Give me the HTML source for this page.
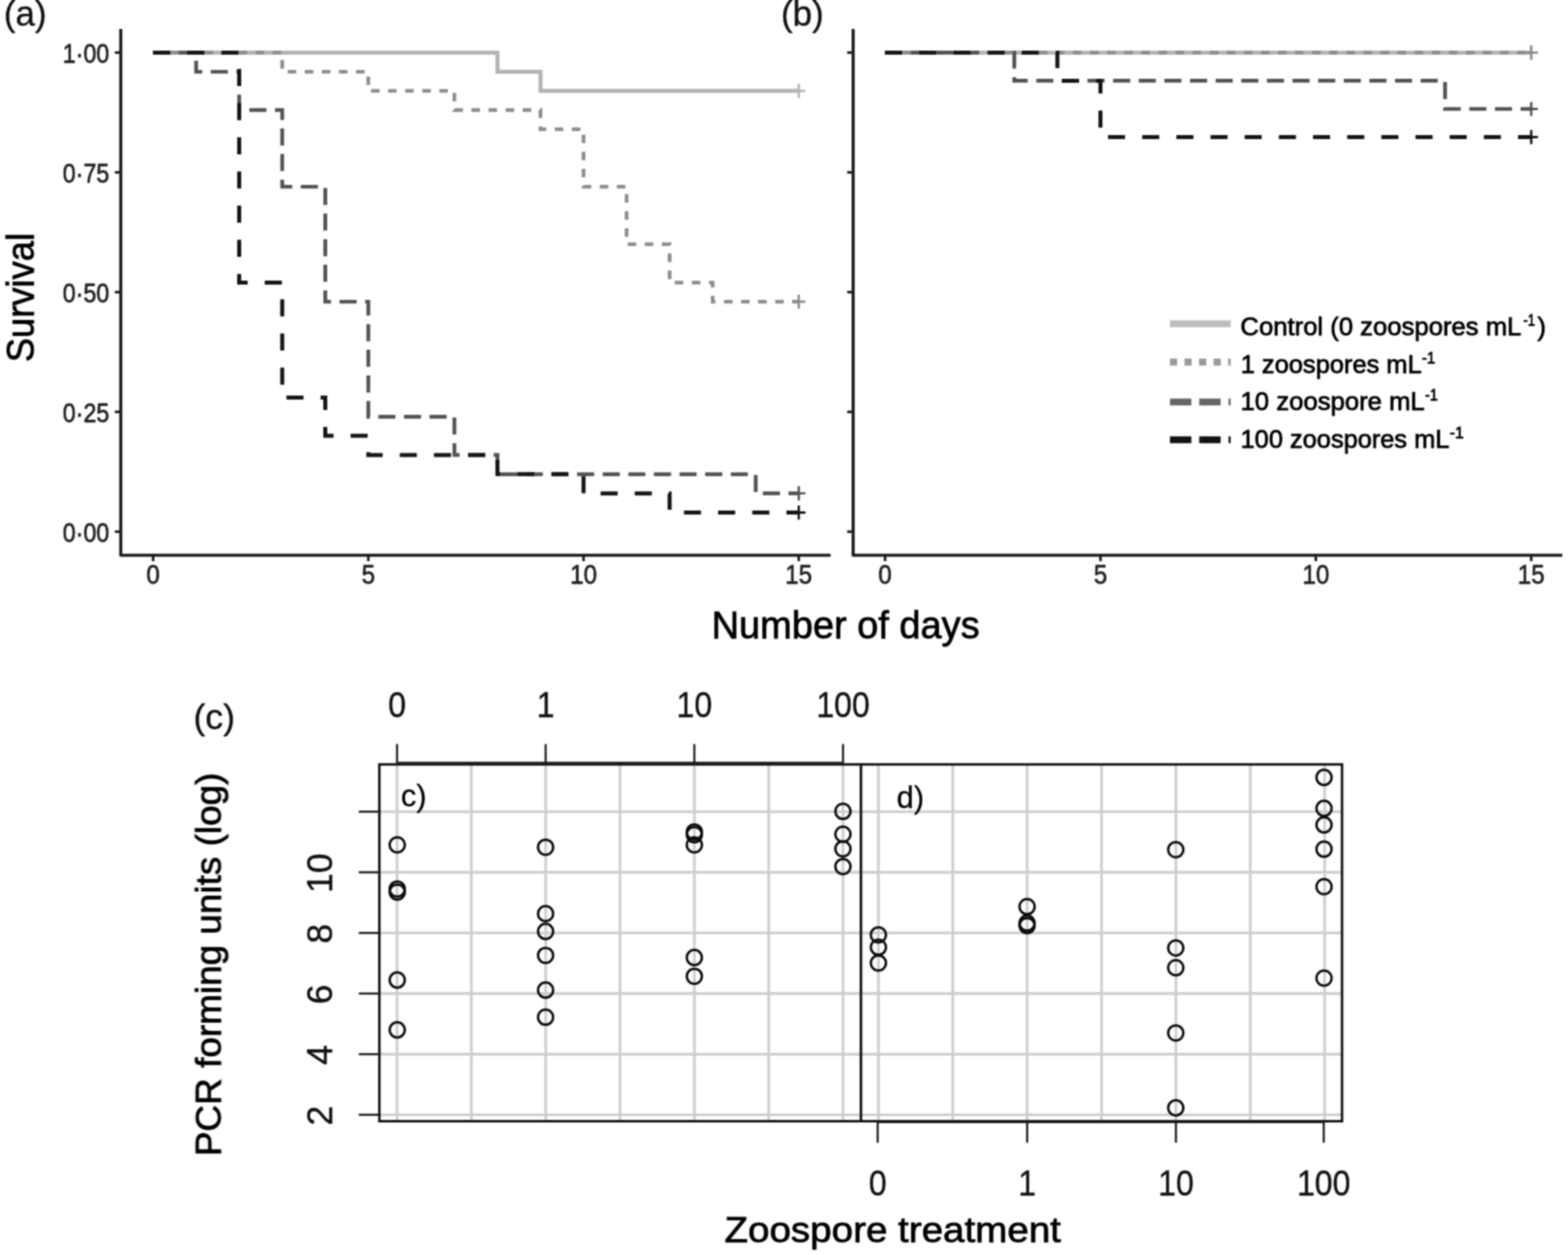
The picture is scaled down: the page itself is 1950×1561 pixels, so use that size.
<!DOCTYPE html>
<html><head><meta charset="utf-8"><title>Figure</title>
<style>html,body{margin:0;padding:0;background:#fff;}svg{display:block;}</style>
</head><body><div id="w">
<svg width="1950" height="1561" viewBox="0 0 1950 1561">
<rect width="1950" height="1561" fill="#ffffff"/>
<defs><filter id="bl" x="0" y="0" width="1950" height="1561" filterUnits="userSpaceOnUse" color-interpolation-filters="sRGB"><feConvolveMatrix order="5" kernelMatrix="0.00142 0.00904 0.01675 0.00904 0.00142 0.00904 0.05757 0.10673 0.05757 0.00904 0.01675 0.10673 0.19786 0.10673 0.01675 0.00904 0.05757 0.10673 0.05757 0.00904 0.00142 0.00904 0.01675 0.00904 0.00142" divisor="1" edgeMode="duplicate" preserveAlpha="false"/></filter></defs>
<g filter="url(#bl)">
<g font-family="'Liberation Sans', Arial, Helvetica, sans-serif">
<path d="M150.2,36 V690.7 H1033" fill="none" stroke="#1a1a1a" stroke-width="3.8" stroke-linejoin="round"/>
<line x1="142.8" y1="65.40" x2="150.2" y2="65.40" stroke="#1a1a1a" stroke-width="3.2"/>
<line x1="142.8" y1="214.38" x2="150.2" y2="214.38" stroke="#1a1a1a" stroke-width="3.2"/>
<line x1="142.8" y1="363.35" x2="150.2" y2="363.35" stroke="#1a1a1a" stroke-width="3.2"/>
<line x1="142.8" y1="512.32" x2="150.2" y2="512.32" stroke="#1a1a1a" stroke-width="3.2"/>
<line x1="142.8" y1="661.30" x2="150.2" y2="661.30" stroke="#1a1a1a" stroke-width="3.2"/>
<line x1="190.40" y1="690.7" x2="190.40" y2="698" stroke="#1a1a1a" stroke-width="3.2"/>
<text transform="translate(190.40,726.2) scale(0.9,1)" font-size="33.5" text-anchor="middle" fill="#222" stroke="#222" stroke-width="0.8">0</text>
<line x1="458.05" y1="690.7" x2="458.05" y2="698" stroke="#1a1a1a" stroke-width="3.2"/>
<text transform="translate(458.05,726.2) scale(0.9,1)" font-size="33.5" text-anchor="middle" fill="#222" stroke="#222" stroke-width="0.8">5</text>
<line x1="725.70" y1="690.7" x2="725.70" y2="698" stroke="#1a1a1a" stroke-width="3.2"/>
<text transform="translate(725.70,726.2) scale(0.9,1)" font-size="33.5" text-anchor="middle" fill="#222" stroke="#222" stroke-width="0.8">10</text>
<line x1="993.35" y1="690.7" x2="993.35" y2="698" stroke="#1a1a1a" stroke-width="3.2"/>
<text transform="translate(993.35,726.2) scale(0.9,1)" font-size="33.5" text-anchor="middle" fill="#222" stroke="#222" stroke-width="0.8">15</text>
<text transform="translate(136,77.80) scale(0.893,1)" font-size="32.5" text-anchor="end" fill="#222" stroke="#222" stroke-width="0.8">1·00</text>
<text transform="translate(136,226.78) scale(0.893,1)" font-size="32.5" text-anchor="end" fill="#222" stroke="#222" stroke-width="0.8">0·75</text>
<text transform="translate(136,375.75) scale(0.893,1)" font-size="32.5" text-anchor="end" fill="#222" stroke="#222" stroke-width="0.8">0·50</text>
<text transform="translate(136,524.72) scale(0.893,1)" font-size="32.5" text-anchor="end" fill="#222" stroke="#222" stroke-width="0.8">0·25</text>
<text transform="translate(136,673.70) scale(0.893,1)" font-size="32.5" text-anchor="end" fill="#222" stroke="#222" stroke-width="0.8">0·00</text>
<path d="M1061,36 V690.7 H1943" fill="none" stroke="#1a1a1a" stroke-width="3.8" stroke-linejoin="round"/>
<line x1="1053.6" y1="65.40" x2="1061" y2="65.40" stroke="#1a1a1a" stroke-width="3.2"/>
<line x1="1053.6" y1="214.38" x2="1061" y2="214.38" stroke="#1a1a1a" stroke-width="3.2"/>
<line x1="1053.6" y1="363.35" x2="1061" y2="363.35" stroke="#1a1a1a" stroke-width="3.2"/>
<line x1="1053.6" y1="512.32" x2="1061" y2="512.32" stroke="#1a1a1a" stroke-width="3.2"/>
<line x1="1053.6" y1="661.30" x2="1061" y2="661.30" stroke="#1a1a1a" stroke-width="3.2"/>
<line x1="1100.70" y1="690.7" x2="1100.70" y2="698" stroke="#1a1a1a" stroke-width="3.2"/>
<text transform="translate(1100.70,726.2) scale(0.9,1)" font-size="33.5" text-anchor="middle" fill="#222" stroke="#222" stroke-width="0.8">0</text>
<line x1="1368.55" y1="690.7" x2="1368.55" y2="698" stroke="#1a1a1a" stroke-width="3.2"/>
<text transform="translate(1368.55,726.2) scale(0.9,1)" font-size="33.5" text-anchor="middle" fill="#222" stroke="#222" stroke-width="0.8">5</text>
<line x1="1636.40" y1="690.7" x2="1636.40" y2="698" stroke="#1a1a1a" stroke-width="3.2"/>
<text transform="translate(1636.40,726.2) scale(0.9,1)" font-size="33.5" text-anchor="middle" fill="#222" stroke="#222" stroke-width="0.8">10</text>
<line x1="1904.25" y1="690.7" x2="1904.25" y2="698" stroke="#1a1a1a" stroke-width="3.2"/>
<text transform="translate(1904.25,726.2) scale(0.9,1)" font-size="33.5" text-anchor="middle" fill="#222" stroke="#222" stroke-width="0.8">15</text>
</g>
<path d="M190.40,65.40H618.64V89.24H672.17V113.07H993.35" fill="none" stroke="#b3b3b3" stroke-width="5.0" stroke-linejoin="miter"/>
<path d="M190.40,65.40H350.99V89.24H458.05V113.07H565.11V136.91H672.17V160.74H725.70V232.25H779.23V303.76H832.76V351.43H886.29V375.27H993.35" fill="none" stroke="#8c8c8c" stroke-width="4.6" stroke-dasharray="10.623 10.623" stroke-linejoin="miter"/>
<path d="M190.40,65.40H243.93V89.24H297.46V136.91H350.99V232.25H404.52V375.27H458.05V518.28H565.11V565.96H618.64V589.79H939.82V613.63H993.35" fill="none" stroke="#525252" stroke-width="4.7" stroke-dasharray="21.245 10.623" stroke-linejoin="miter"/>
<path d="M190.40,65.40H297.46V351.43H350.99V494.45H404.52V542.12H458.05V565.96H618.64V589.79H725.70V613.63H832.76V637.46H993.35" fill="none" stroke="#141414" stroke-width="5.0" stroke-dasharray="21.245 21.245" stroke-linejoin="miter"/>
<path d="M985.05,113.07H1001.65M993.35,104.27V121.87" stroke="#b3b3b3" stroke-width="2.9" fill="none"/>
<path d="M985.05,375.27H1001.65M993.35,366.47V384.07" stroke="#8c8c8c" stroke-width="2.9" fill="none"/>
<path d="M985.05,613.63H1001.65M993.35,604.83V622.43" stroke="#525252" stroke-width="2.9" fill="none"/>
<path d="M985.05,637.46H1001.65M993.35,628.66V646.26" stroke="#141414" stroke-width="2.9" fill="none"/>
<path d="M1100.70,65.40H1904.25" fill="none" stroke="#b3b3b3" stroke-width="5.0" stroke-linejoin="miter"/>
<path d="M1100.70,65.40H1904.25" fill="none" stroke="#8c8c8c" stroke-width="4.6" stroke-dasharray="10.623 10.623" stroke-linejoin="miter"/>
<path d="M1100.70,65.40H1261.41V100.45H1797.11V135.51H1904.25" fill="none" stroke="#525252" stroke-width="4.7" stroke-dasharray="21.245 10.623" stroke-linejoin="miter"/>
<path d="M1100.70,65.40H1314.98V100.45H1368.55V170.56H1904.25" fill="none" stroke="#141414" stroke-width="5.0" stroke-dasharray="21.245 21.245" stroke-linejoin="miter"/>
<path d="M1895.95,65.40H1912.55M1904.25,56.60V74.20" stroke="#b3b3b3" stroke-width="2.9" fill="none"/>
<path d="M1895.95,65.40H1912.55M1904.25,56.60V74.20" stroke="#8c8c8c" stroke-width="2.9" fill="none"/>
<path d="M1895.95,135.51H1912.55M1904.25,126.71V144.31" stroke="#525252" stroke-width="2.9" fill="none"/>
<path d="M1895.95,170.56H1912.55M1904.25,161.76V179.36" stroke="#141414" stroke-width="2.9" fill="none"/>
<g font-family="'Liberation Sans', Arial, Helvetica, sans-serif" fill="#111" stroke="#111" stroke-width="0.4">
<text x="4.8" y="32.4" font-size="43.5">(a)</text>
<text x="971.3" y="32.4" font-size="43.5">(b)</text>
<text x="240.5" y="906.5" font-size="44.5">(c)</text>
</g>
<g font-family="'Liberation Sans', Arial, Helvetica, sans-serif" fill="#000" stroke="#000" stroke-width="0.9">
<line x1="1455" y1="402.7" x2="1530.5" y2="402.7" stroke="#bdbdbd" stroke-width="8.6"/>
<text x="1542.6" y="417" font-size="32" textLength="349.4" lengthAdjust="spacingAndGlyphs">Control (0 zoospores mL</text>
<text x="1894.5" y="404.5" font-size="20" textLength="14.5" lengthAdjust="spacingAndGlyphs">-1</text>
<text x="1912" y="417" font-size="32">)</text>
<line x1="1455" y1="450.4" x2="1530.5" y2="450.4" stroke="#9a9a9a" stroke-width="8.6" stroke-dasharray="8.9 9.2"/>
<text x="1543" y="464" font-size="32" textLength="225.0" lengthAdjust="spacingAndGlyphs">1 zoospores mL</text>
<text x="1768.3" y="451.5" font-size="20" textLength="16.7" lengthAdjust="spacingAndGlyphs">-1</text>
<line x1="1455" y1="500.0" x2="1530.5" y2="500.0" stroke="#666666" stroke-width="8.6" stroke-dasharray="26.6 9.8"/>
<text x="1542.8" y="510" font-size="32" textLength="229.0" lengthAdjust="spacingAndGlyphs">10 zoospore mL</text>
<text x="1772.3" y="497.5" font-size="20" textLength="15.7" lengthAdjust="spacingAndGlyphs">-1</text>
<line x1="1455" y1="547.0" x2="1530.5" y2="547.0" stroke="#111111" stroke-width="8.6" stroke-dasharray="26.6 9.8"/>
<text x="1542.8" y="557.4" font-size="32" textLength="259.7" lengthAdjust="spacingAndGlyphs">100 zoospores mL</text>
<text x="1803" y="544.9" font-size="20" textLength="17.3" lengthAdjust="spacingAndGlyphs">-1</text>
</g>
<g font-family="'Liberation Sans', Arial, Helvetica, sans-serif" fill="#000" stroke="#000" stroke-width="0.9">
<text x="885" y="794" font-size="47.5" textLength="333.3" lengthAdjust="spacingAndGlyphs">Number of days</text>
<text transform="translate(41.7,450.6) rotate(-90)" x="0" y="0" font-size="47.5" textLength="160.8" lengthAdjust="spacingAndGlyphs">Survival</text>
<text x="901" y="1544.5" font-size="44" textLength="418.4" lengthAdjust="spacingAndGlyphs">Zoospore treatment</text>
<text transform="translate(274.6,1438) rotate(-90)" x="0" y="0" font-size="44" textLength="477" lengthAdjust="spacingAndGlyphs">PCR forming units (log)</text>
</g>
<line x1="493.80" y1="950.8" x2="493.80" y2="1394.6" stroke="#cecece" stroke-width="3.4"/>
<line x1="586.23" y1="950.8" x2="586.23" y2="1394.6" stroke="#cecece" stroke-width="3.4"/>
<line x1="678.66" y1="950.8" x2="678.66" y2="1394.6" stroke="#cecece" stroke-width="3.4"/>
<line x1="771.09" y1="950.8" x2="771.09" y2="1394.6" stroke="#cecece" stroke-width="3.4"/>
<line x1="863.52" y1="950.8" x2="863.52" y2="1394.6" stroke="#cecece" stroke-width="3.4"/>
<line x1="955.95" y1="950.8" x2="955.95" y2="1394.6" stroke="#cecece" stroke-width="3.4"/>
<line x1="1048.38" y1="950.8" x2="1048.38" y2="1394.6" stroke="#cecece" stroke-width="3.4"/>
<line x1="1092.40" y1="950.8" x2="1092.40" y2="1394.6" stroke="#cecece" stroke-width="3.4"/>
<line x1="1184.90" y1="950.8" x2="1184.90" y2="1394.6" stroke="#cecece" stroke-width="3.4"/>
<line x1="1277.40" y1="950.8" x2="1277.40" y2="1394.6" stroke="#cecece" stroke-width="3.4"/>
<line x1="1369.90" y1="950.8" x2="1369.90" y2="1394.6" stroke="#cecece" stroke-width="3.4"/>
<line x1="1462.40" y1="950.8" x2="1462.40" y2="1394.6" stroke="#cecece" stroke-width="3.4"/>
<line x1="1554.90" y1="950.8" x2="1554.90" y2="1394.6" stroke="#cecece" stroke-width="3.4"/>
<line x1="1647.40" y1="950.8" x2="1647.40" y2="1394.6" stroke="#cecece" stroke-width="3.4"/>
<line x1="471.8" y1="1386.60" x2="1669" y2="1386.60" stroke="#cecece" stroke-width="3.4"/>
<line x1="471.8" y1="1311.20" x2="1669" y2="1311.20" stroke="#cecece" stroke-width="3.4"/>
<line x1="471.8" y1="1235.80" x2="1669" y2="1235.80" stroke="#cecece" stroke-width="3.4"/>
<line x1="471.8" y1="1160.40" x2="1669" y2="1160.40" stroke="#cecece" stroke-width="3.4"/>
<line x1="471.8" y1="1085.00" x2="1669" y2="1085.00" stroke="#cecece" stroke-width="3.4"/>
<line x1="471.8" y1="1009.60" x2="1669" y2="1009.60" stroke="#cecece" stroke-width="3.4"/>
<rect x="471.8" y="950.8" width="1197.2" height="443.8" fill="none" stroke="#0a0a0a" stroke-width="3"/>
<line x1="1070.7" y1="950.8" x2="1070.7" y2="1394.6" stroke="#111" stroke-width="3.2"/>
<line x1="493.8" y1="949.3" x2="1048.4" y2="949.3" stroke="#1a1a1a" stroke-width="3.6"/>
<line x1="493.8" y1="925.5" x2="493.8" y2="949.3" stroke="#1a1a1a" stroke-width="2.6"/>
<line x1="678.6" y1="925.5" x2="678.6" y2="949.3" stroke="#1a1a1a" stroke-width="2.6"/>
<line x1="863.5" y1="925.5" x2="863.5" y2="949.3" stroke="#1a1a1a" stroke-width="2.6"/>
<line x1="1048.4" y1="925.5" x2="1048.4" y2="949.3" stroke="#1a1a1a" stroke-width="2.6"/>
<line x1="1091.5" y1="1395.3" x2="1646.2" y2="1395.3" stroke="#1a1a1a" stroke-width="3.6"/>
<line x1="1091.5" y1="1395.3" x2="1091.5" y2="1421.3" stroke="#1a1a1a" stroke-width="2.6"/>
<line x1="1277.4" y1="1395.3" x2="1277.4" y2="1421.3" stroke="#1a1a1a" stroke-width="2.6"/>
<line x1="1462.4" y1="1395.3" x2="1462.4" y2="1421.3" stroke="#1a1a1a" stroke-width="2.6"/>
<line x1="1646.2" y1="1395.3" x2="1646.2" y2="1421.3" stroke="#1a1a1a" stroke-width="2.6"/>
<line x1="446.2" y1="1386.60" x2="471.8" y2="1386.60" stroke="#1a1a1a" stroke-width="2.6"/>
<line x1="446.2" y1="1311.20" x2="471.8" y2="1311.20" stroke="#1a1a1a" stroke-width="2.6"/>
<line x1="446.2" y1="1235.80" x2="471.8" y2="1235.80" stroke="#1a1a1a" stroke-width="2.6"/>
<line x1="446.2" y1="1160.40" x2="471.8" y2="1160.40" stroke="#1a1a1a" stroke-width="2.6"/>
<line x1="446.2" y1="1085.00" x2="471.8" y2="1085.00" stroke="#1a1a1a" stroke-width="2.6"/>
<line x1="446.2" y1="1009.60" x2="471.8" y2="1009.60" stroke="#1a1a1a" stroke-width="2.6"/>
<g font-family="'Liberation Sans', Arial, Helvetica, sans-serif" fill="#111" font-size="40.5" stroke="#111" stroke-width="0.5">
<text transform="translate(493.8,892.2) scale(0.9,1)" font-size="44.3" text-anchor="middle">0</text>
<text transform="translate(678.6,892.2) scale(0.9,1)" font-size="44.3" text-anchor="middle">1</text>
<text transform="translate(863.5,892.2) scale(0.9,1)" font-size="44.3" text-anchor="middle">10</text>
<text transform="translate(1048.4,892.2) scale(0.9,1)" font-size="44.3" text-anchor="middle">100</text>
<text transform="translate(1091.5,1487.2) scale(0.9,1)" font-size="44.3" text-anchor="middle">0</text>
<text transform="translate(1277.4,1487.2) scale(0.9,1)" font-size="44.3" text-anchor="middle">1</text>
<text transform="translate(1462.4,1487.2) scale(0.9,1)" font-size="44.3" text-anchor="middle">10</text>
<text transform="translate(1646.2,1487.2) scale(0.9,1)" font-size="44.3" text-anchor="middle">100</text>
<text transform="translate(413.2,1387.60) rotate(-90)" x="0" y="0" text-anchor="middle" font-size="44.5">2</text>
<text transform="translate(413.2,1312.20) rotate(-90)" x="0" y="0" text-anchor="middle" font-size="44.5">4</text>
<text transform="translate(413.2,1236.80) rotate(-90)" x="0" y="0" text-anchor="middle" font-size="44.5">6</text>
<text transform="translate(413.2,1161.40) rotate(-90)" x="0" y="0" text-anchor="middle" font-size="44.5">8</text>
<text transform="translate(413.2,1086.00) rotate(-90)" x="0" y="0" text-anchor="middle" font-size="44.5">10</text>
</g>
<g font-family="'Liberation Sans', Arial, Helvetica, sans-serif" fill="#000" font-size="38.5" stroke="#000" stroke-width="0.3">
<text x="498.5" y="1002.6">c)</text>
<text x="1115" y="1004.5">d)</text>
</g>
<circle cx="494.0" cy="1050.9" r="9.4" fill="none" stroke="#0a0a0a" stroke-width="3"/>
<circle cx="494.0" cy="1105.8" r="9.4" fill="none" stroke="#0a0a0a" stroke-width="3"/>
<circle cx="494.0" cy="1109.6" r="9.4" fill="none" stroke="#0a0a0a" stroke-width="3"/>
<circle cx="494.0" cy="1219.0" r="9.4" fill="none" stroke="#0a0a0a" stroke-width="3"/>
<circle cx="494.0" cy="1281.0" r="9.4" fill="none" stroke="#0a0a0a" stroke-width="3"/>
<circle cx="678.5" cy="1053.8" r="9.4" fill="none" stroke="#0a0a0a" stroke-width="3"/>
<circle cx="678.5" cy="1136.4" r="9.4" fill="none" stroke="#0a0a0a" stroke-width="3"/>
<circle cx="678.5" cy="1158.5" r="9.4" fill="none" stroke="#0a0a0a" stroke-width="3"/>
<circle cx="678.5" cy="1188.3" r="9.4" fill="none" stroke="#0a0a0a" stroke-width="3"/>
<circle cx="678.5" cy="1231.5" r="9.4" fill="none" stroke="#0a0a0a" stroke-width="3"/>
<circle cx="678.5" cy="1265.2" r="9.4" fill="none" stroke="#0a0a0a" stroke-width="3"/>
<circle cx="863.5" cy="1034.8" r="9.4" fill="none" stroke="#0a0a0a" stroke-width="3"/>
<circle cx="863.5" cy="1038.2" r="9.4" fill="none" stroke="#0a0a0a" stroke-width="3"/>
<circle cx="863.5" cy="1050.9" r="9.4" fill="none" stroke="#0a0a0a" stroke-width="3"/>
<circle cx="863.5" cy="1191.0" r="9.4" fill="none" stroke="#0a0a0a" stroke-width="3"/>
<circle cx="863.5" cy="1214.3" r="9.4" fill="none" stroke="#0a0a0a" stroke-width="3"/>
<circle cx="1048.3" cy="1009.2" r="9.4" fill="none" stroke="#0a0a0a" stroke-width="3"/>
<circle cx="1048.3" cy="1037.6" r="9.4" fill="none" stroke="#0a0a0a" stroke-width="3"/>
<circle cx="1048.3" cy="1055.8" r="9.4" fill="none" stroke="#0a0a0a" stroke-width="3"/>
<circle cx="1048.3" cy="1077.8" r="9.4" fill="none" stroke="#0a0a0a" stroke-width="3"/>
<circle cx="1092.4" cy="1162.8" r="9.4" fill="none" stroke="#0a0a0a" stroke-width="3"/>
<circle cx="1092.4" cy="1178.2" r="9.4" fill="none" stroke="#0a0a0a" stroke-width="3"/>
<circle cx="1092.4" cy="1197.8" r="9.4" fill="none" stroke="#0a0a0a" stroke-width="3"/>
<circle cx="1277.3" cy="1127.7" r="9.4" fill="none" stroke="#0a0a0a" stroke-width="3"/>
<circle cx="1277.3" cy="1148.2" r="9.4" fill="none" stroke="#0a0a0a" stroke-width="3"/>
<circle cx="1277.3" cy="1151.3" r="9.4" fill="none" stroke="#0a0a0a" stroke-width="3"/>
<circle cx="1462.2" cy="1056.8" r="9.4" fill="none" stroke="#0a0a0a" stroke-width="3"/>
<circle cx="1462.2" cy="1179.1" r="9.4" fill="none" stroke="#0a0a0a" stroke-width="3"/>
<circle cx="1462.2" cy="1203.7" r="9.4" fill="none" stroke="#0a0a0a" stroke-width="3"/>
<circle cx="1462.2" cy="1284.8" r="9.4" fill="none" stroke="#0a0a0a" stroke-width="3"/>
<circle cx="1462.2" cy="1378.0" r="9.4" fill="none" stroke="#0a0a0a" stroke-width="3"/>
<circle cx="1646.6" cy="967.0" r="9.4" fill="none" stroke="#0a0a0a" stroke-width="3"/>
<circle cx="1646.6" cy="1005.5" r="9.4" fill="none" stroke="#0a0a0a" stroke-width="3"/>
<circle cx="1646.6" cy="1026.0" r="9.4" fill="none" stroke="#0a0a0a" stroke-width="3"/>
<circle cx="1646.6" cy="1056.2" r="9.4" fill="none" stroke="#0a0a0a" stroke-width="3"/>
<circle cx="1646.6" cy="1102.9" r="9.4" fill="none" stroke="#0a0a0a" stroke-width="3"/>
<circle cx="1646.6" cy="1216.6" r="9.4" fill="none" stroke="#0a0a0a" stroke-width="3"/>
</g>
</svg>
</div></body></html>
